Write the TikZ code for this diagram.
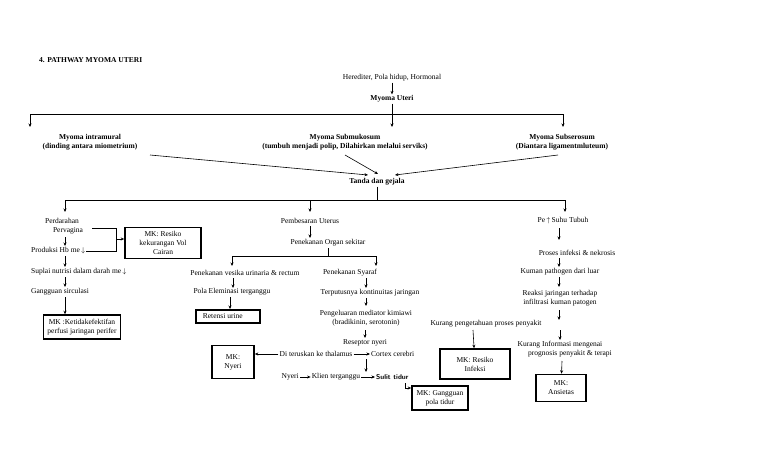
\documentclass[tikz,border=0pt]{standalone}
\usepackage{fontspec}
\setmainfont{Liberation Serif}
\usetikzlibrary{arrows.meta}
\begin{document}
\begin{tikzpicture}[x=1pt, y=-1pt, >={Stealth[length=3.5pt,width=3pt]},
    every node/.style={font=\fontsize{7.5}{9}\selectfont, inner sep=1pt, align=center},
    hd/.style={font=\fontsize{7.5}{9}\selectfont\bfseries},
    mk/.style={draw, line width=1.6pt, inner sep=4pt},
    ar/.style={->, line width=0.6pt}]
    \useasboundingbox (0,0) rectangle (768,466);

    % --- TOP ---
    \node[hd, anchor=west] (title) at (38,60) {4. PATHWAY MYOMA UTERI};
    \node (cause) at (392,78) {Herediter, Pola hidup, Hormonal};
    \node[hd] (myoma) at (392,99) {Myoma Uteri};
    \draw[ar] (cause) -- (myoma);
    \coordinate (bL) at (30,114);
    \coordinate (bR) at (563,114);
    \draw (bL) -- (bR);
    \node[hd] (intra) at (90,142) {Myoma intramural\\(dinding antara miometrium)};
    \node[hd] (submu) at (345,142) {Myoma Submukosum\\(tumbuh menjadi polip, Dilahirkan melalui serviks)};
    \node[hd] (subse) at (562,142) {Myoma Subserosum\\(Diantara ligamentmluteum)};
    \foreach \x in {30,392,563} \draw[ar] (\x,114) -- (\x,127);
    \draw (myoma) -- (392,114);
    \node[hd] (tanda) at (377,182) {Tanda dan gejala};
    \draw[ar] (150,155) -- (368,175);
    \draw[ar] (345,155) -- (378,174);
    \draw[ar] (558,155) -- (395,175);
    \draw (tanda) -- (377,200);
    \draw (65,200) -- (565,200);
    \foreach \x in {65,310,565} \draw[ar] (\x,200) -- (\x,212);

    % --- LEFT BRANCH ---
    \node (perd) at (62,226) {Perdarahan\\\hspace*{12pt}Pervagina};
    \node[anchor=west] (hb) at (30,251) {Produksi Hb me\,$\downarrow$};
    \node[anchor=west] (supl) at (30,272) {Suplai nutrisi dalam darah me\,$\downarrow$};
    \node[anchor=west] (gang) at (30,292) {Gangguan sirculasi};
    \node[mk] (perf) at (82,327) {MK :Ketidakefektifan\\perfusi jaringan perifer};
    \node[mk, minimum width=76pt] (vol) at (163,243) {MK: Resiko\\kekurangan Vol\\Cairan};
    \draw (92,228) -- (116,228) -- (116,251) -- (hb.east);
    \draw[ar] (116,239) -- (vol.west |- 0,239);
    \draw[ar] (65,237) -- (65,246);
    \draw[ar] (65,256) -- (65,267);
    \draw[ar] (65,277) -- (65,287);
    \draw[ar] (65,297) -- (perf.north -| 65,0);

    % --- MIDDLE BRANCH ---
    \node (pemb) at (310,221) {Pembesaran Uterus};
    \node (organ) at (328,243) {Penekanan Organ sekitar};
    \draw[ar] (310,226) -- (310,238);
    \draw (328,248) -- (328,256);
    \draw (232,256) -- (376,256);
    \foreach \x in {232,376} \draw[ar] (\x,256) -- (\x,266);
    \node (vesika) at (245,273) {Penekanan vesika urinaria \& rectum};
    \node (pola) at (232,292) {Pola Eleminasi terganggu};
    \node[mk, minimum width=64pt, anchor=north west] (ret) at (195,309) {Retensi urine\hspace*{10pt}};
    \draw[ar] (233,278) -- (233,288);
    \draw[ar] (230,297) -- (ret.north -| 230,0);
    \node (syaraf) at (350,273) {Penekanan Syaraf};
    \node (putus) at (370,293) {Terputusnya kontinuitas jaringan};
    \node (media) at (366,318) {Pengeluaran mediator kimiawi\\(bradikinin, serotonin)};
    \node (resep) at (365,343) {Reseptor nyeri};
    \node (thal) at (316,354) {Di teruskan ke thalamus};
    \node[anchor=west] (cortex) at (370,354) {Cortex cerebri};
    \node[mk, minimum width=42pt, minimum height=33pt] (nyerimk) at (233,362) {MK:\\Nyeri};
    \node[anchor=east] (nyeri) at (300,377) {Nyeri};
    \node (klien) at (336,377) {Klien terganggu};
    \node[anchor=west, font=\fontsize{7}{8.5}\selectfont\sffamily\bfseries] (sulit) at (375,377) {Sulit tidur};
    \node[mk, minimum width=56pt] (tidur) at (440,398) {MK: Gangguan\\pola tidur};
    \draw[ar] (366,278) -- (366,288);
    \draw[ar] (366,298) -- (366,306);
    \draw[ar] (365,330) -- (365,338);
    \draw[ar] (thal) -- (cortex);
    \draw[ar] (thal.west) -- (nyerimk.east |- 0,354);
    \draw[ar] (366,359) -- (366,372);
    \draw[ar] (nyeri) -- (klien);
    \draw[ar] (klien) -- (sulit);
    \draw[ar] (405,383) -- (405,388) -- (tidur.west |- 0,388);

    % --- RIGHT BRANCH ---
    \node (suhu) at (563,221) {Pe\,$\uparrow$\,Suhu Tubuh};
    \node (proses) at (577,253) {Proses infeksi \& nekrosis};
    \node (kuman) at (560,272) {Kuman pathogen dari luar};
    \node (reaksi) at (560,298) {Reaksi jaringan terhadap\\infiltrasi kuman patogen};
    \node (kurang) at (486,324) {Kurang pengetahuan proses penyakit};
    \node (info) at (560,349) {Kurang Informasi mengenai\\\hspace*{20pt}prognosis penyakit \& terapi};
    \node[mk, minimum width=70pt, minimum height=30pt] (inf) at (475,364) {MK: Resiko\\Infeksi};
    \node[mk, minimum width=50pt, minimum height=27pt] (ansi) at (561,388) {MK:\\Ansietas};
    \draw[ar] (559,228) -- (559,240);
    \draw[ar] (559,258) -- (559,267);
    \draw[ar] (559,277) -- (559,287);
    \draw[ar] (559,310) -- (559,320);
    \draw[ar] (560,330) -- (560,340);
    \draw[ar] (473,330) -- (inf);
    \draw[ar] (562,361) -- (ansi);
\end{tikzpicture}
\end{document}
